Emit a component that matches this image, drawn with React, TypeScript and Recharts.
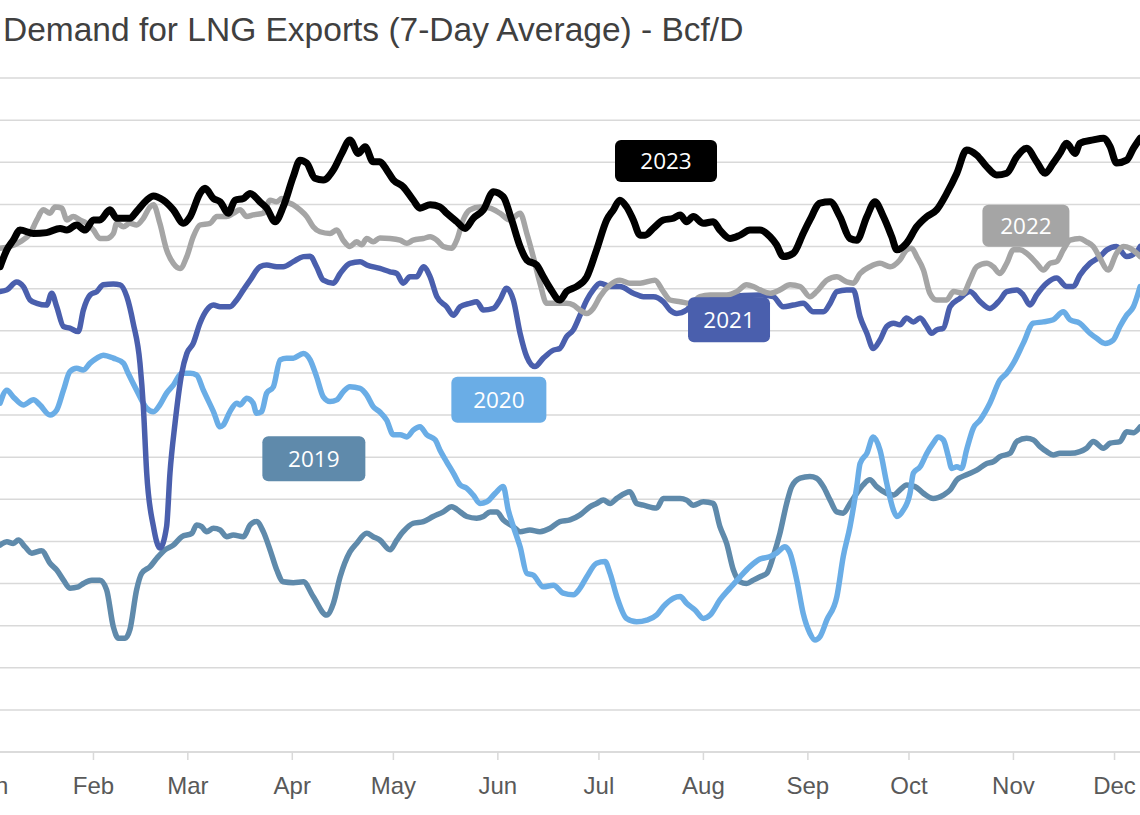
import React from 'react';
import { LineChart, Line, XAxis, YAxis, CartesianGrid, ReferenceDot } from 'recharts';

// day of year (Jan 1 = 0) -> Bcf/D, 7-day average
const monthStarts = [0, 31, 59, 90, 120, 151, 181, 212, 243, 273, 304, 334];
const monthNames = ['Jan', 'Feb', 'Mar', 'Apr', 'May', 'Jun', 'Jul', 'Aug', 'Sep', 'Oct', 'Nov', 'Dec'];
const yTicks = [0, 1, 2, 3, 4, 5, 6, 7, 8, 9, 10, 11, 12, 13, 14, 15, 16];

const y2019: [number, number][] = [
  [3.3, 4.91], [5.3, 4.99], [7.2, 4.95], [8.7, 5.03], [10.7, 4.87], [12.7, 4.72], [15.6, 4.78], [18.1, 4.48],
  [20.1, 4.32], [22.1, 4.08], [24.0, 3.89], [26.5, 3.92], [28.0, 4.0], [30.5, 4.08], [32.9, 4.08], [34.9, 3.85],
  [36.9, 2.97], [38.4, 2.7], [40.4, 2.7], [41.8, 2.9], [43.8, 3.85], [45.3, 4.24], [47.8, 4.4], [49.8, 4.6],
  [52.2, 4.8], [54.7, 4.91], [57.2, 5.11], [60.2, 5.19], [61.6, 5.39], [63.1, 5.35], [64.6, 5.23], [66.6, 5.31],
  [68.6, 5.27], [70.5, 5.11], [72.5, 5.15], [75.5, 5.11], [77.5, 5.39], [79.4, 5.47], [81.4, 5.23], [83.4, 4.8],
  [85.4, 4.32], [87.3, 4.04], [90.3, 4.02], [93.3, 4.04], [96.2, 3.69], [100.2, 3.25], [102.2, 3.53], [104.2, 4.16],
  [107.1, 4.75], [109.1, 4.95], [112.1, 5.19], [114.0, 5.11], [116.0, 5.03], [119.0, 4.8], [121.0, 5.03], [122.9, 5.23],
  [125.9, 5.43], [128.9, 5.47], [131.8, 5.59], [134.8, 5.7], [137.3, 5.82], [139.8, 5.7], [141.8, 5.59], [144.7, 5.55],
  [146.7, 5.59], [148.7, 5.7], [150.7, 5.7], [152.6, 5.51], [155.6, 5.35], [157.6, 5.23], [160.5, 5.27], [163.5, 5.23],
  [166.5, 5.31], [169.4, 5.47], [172.4, 5.51], [175.4, 5.63], [178.3, 5.82], [180.3, 5.9], [182.3, 5.98], [184.3, 5.9],
  [186.3, 6.02], [190.2, 6.18], [192.2, 5.9], [194.2, 5.86], [198.1, 5.79], [200.1, 6.02], [202.1, 6.02], [205.1, 6.02],
  [207.0, 5.98], [209.0, 5.86], [212.0, 5.94], [214.9, 5.9], [216.9, 5.35], [218.9, 4.95], [220.9, 4.32], [222.9, 4.04],
  [224.8, 4.0], [226.8, 4.08], [228.8, 4.16], [230.8, 4.24], [232.7, 4.64], [234.7, 5.19], [236.7, 5.9], [238.2, 6.3],
  [240.7, 6.5], [243.6, 6.54], [245.6, 6.5], [247.6, 6.3], [249.6, 5.98], [251.6, 5.7], [253.5, 5.67], [255.5, 5.9],
  [257.5, 6.14], [259.4, 6.34], [261.4, 6.46], [263.4, 6.3], [266.4, 6.14], [268.4, 6.1], [270.3, 6.22], [272.3, 6.34],
  [274.8, 6.3], [277.3, 6.14], [280.2, 6.02], [283.2, 6.1], [285.2, 6.22], [287.2, 6.46], [290.1, 6.58], [293.1, 6.69],
  [296.1, 6.85], [298.0, 6.89], [300.0, 7.01], [303.0, 7.09], [305.0, 7.37], [307.9, 7.45], [309.9, 7.41], [311.9, 7.25],
  [313.9, 7.13], [315.8, 7.05], [317.8, 7.09], [320.8, 7.09], [323.7, 7.13], [325.7, 7.21], [327.7, 7.37], [330.7, 7.21],
  [332.7, 7.33], [335.6, 7.37], [337.6, 7.6], [339.6, 7.58], [341.6, 7.72],
];

const y2020: [number, number][] = [
  [3.3, 8.28], [5.3, 8.59], [7.2, 8.43], [10.2, 8.24], [13.2, 8.36], [15.1, 8.24], [18.1, 8.0], [20.1, 8.12],
  [22.1, 8.59], [24.0, 9.03], [26.0, 9.11], [28.0, 9.07], [30.0, 9.23], [32.0, 9.35], [33.9, 9.42], [36.9, 9.35],
  [39.9, 9.23], [41.3, 8.99], [43.8, 8.59], [46.8, 8.16], [48.8, 8.08], [50.7, 8.24], [52.7, 8.52], [54.7, 8.71],
  [57.2, 8.99], [59.7, 8.99], [61.6, 8.95], [63.6, 8.59], [66.6, 8.08], [68.6, 7.72], [69.5, 7.76], [71.5, 8.08],
  [73.5, 8.28], [74.5, 8.24], [76.5, 8.4], [78.4, 8.28], [79.4, 8.04], [80.9, 8.08], [82.4, 8.52], [84.4, 8.67],
  [86.4, 9.31], [88.3, 9.35], [90.3, 9.35], [93.3, 9.46], [95.3, 9.31], [97.2, 8.91], [99.2, 8.43], [101.2, 8.32],
  [103.2, 8.36], [105.1, 8.55], [107.1, 8.67], [110.1, 8.63], [112.1, 8.47], [114.0, 8.2], [116.0, 8.07], [118.0, 7.88],
  [120.0, 7.53], [122.0, 7.53], [124.0, 7.48], [125.9, 7.64], [127.9, 7.72], [129.9, 7.53], [132.4, 7.41], [133.8, 7.17],
  [135.8, 6.89], [137.8, 6.62], [139.8, 6.34], [141.8, 6.26], [143.7, 6.1], [145.7, 5.9], [147.7, 5.94], [150.2, 6.14],
  [152.6, 6.3], [154.1, 5.74], [155.6, 5.35], [157.6, 4.87], [159.6, 4.24], [161.5, 4.2], [164.5, 3.92], [167.5, 3.96],
  [170.4, 3.77], [173.4, 3.73], [175.4, 3.89], [177.4, 4.16], [180.3, 4.48], [182.8, 4.52], [184.3, 4.24], [186.3, 3.69],
  [189.2, 3.17], [192.2, 3.09], [195.2, 3.13], [198.1, 3.25], [200.1, 3.45], [203.1, 3.65], [205.1, 3.69], [207.0, 3.53],
  [209.5, 3.37], [212.0, 3.17], [214.0, 3.25], [216.9, 3.61], [219.9, 3.89], [222.9, 4.16], [225.8, 4.4], [228.8, 4.58],
  [231.8, 4.64], [233.7, 4.72], [236.2, 4.87], [237.7, 4.72], [239.7, 4.08], [241.6, 3.29], [243.6, 2.82], [245.1, 2.66],
  [246.6, 2.74], [248.6, 3.13], [251.6, 3.69], [253.5, 4.64], [255.5, 5.35], [257.5, 6.3], [258.5, 6.85], [260.5, 7.09],
  [262.4, 7.48], [264.4, 7.17], [266.4, 6.38], [268.4, 5.74], [269.4, 5.59], [271.3, 5.74], [273.3, 6.14], [274.3, 6.62],
  [276.3, 6.77], [278.3, 7.09], [280.2, 7.33], [281.7, 7.48], [283.2, 7.41], [284.7, 7.01], [285.7, 6.73], [287.2, 6.77],
  [288.6, 6.73], [290.1, 7.17], [292.1, 7.69], [294.1, 7.88], [297.0, 8.28], [300.0, 8.83], [302.0, 8.99], [304.0, 9.23],
  [306.9, 9.7], [309.9, 10.18], [312.9, 10.21], [315.8, 10.26], [318.8, 10.45], [320.8, 10.26], [323.7, 10.18], [326.7, 9.94],
  [328.7, 9.82], [331.2, 9.7], [333.6, 9.78], [335.6, 10.1], [337.6, 10.37], [339.6, 10.57], [341.6, 11.05],
];

const y2021: [number, number][] = [
  [3.3, 10.93], [5.3, 10.97], [8.2, 11.16], [10.2, 11.05], [12.2, 10.73], [14.2, 10.65], [17.1, 10.61], [18.6, 10.89],
  [20.1, 10.57], [22.1, 10.1], [24.0, 10.06], [26.5, 9.98], [28.0, 10.49], [30.0, 10.85], [32.0, 10.93], [33.9, 11.09],
  [36.9, 11.11], [38.9, 11.09], [40.9, 10.81], [42.8, 10.18], [44.8, 9.23], [45.8, 8.2], [46.8, 6.62], [48.8, 5.35],
  [50.7, 4.84], [52.7, 5.35], [53.7, 6.62], [55.2, 7.8], [57.2, 8.99], [58.7, 9.46], [60.6, 9.7], [62.6, 10.18],
  [64.6, 10.49], [66.6, 10.61], [68.6, 10.57], [71.5, 10.57], [73.5, 10.73], [75.5, 10.97], [77.5, 11.2], [80.4, 11.52],
  [82.4, 11.56], [85.4, 11.52], [87.3, 11.52], [90.3, 11.64], [93.3, 11.76], [95.3, 11.77], [97.2, 11.52], [99.2, 11.2],
  [102.2, 11.13], [104.2, 11.36], [107.1, 11.6], [110.1, 11.64], [112.1, 11.56], [116.0, 11.48], [119.0, 11.4], [121.0, 11.36],
  [122.9, 11.13], [124.9, 11.28], [126.9, 11.28], [128.9, 11.52], [130.9, 11.28], [132.9, 10.81], [135.8, 10.57], [137.8, 10.37],
  [139.8, 10.57], [142.7, 10.65], [144.7, 10.69], [146.7, 10.49], [149.7, 10.53], [151.6, 10.73], [153.6, 11.01], [155.6, 10.73],
  [157.6, 9.94], [159.6, 9.38], [162.0, 9.15], [164.5, 9.35], [167.5, 9.54], [169.4, 9.58], [171.4, 9.86], [173.4, 10.02],
  [175.4, 10.37], [177.4, 10.73], [179.3, 10.97], [181.3, 11.13], [184.3, 11.05], [187.2, 11.05], [191.2, 10.89], [194.2, 10.81],
  [197.1, 10.81], [200.1, 10.69], [202.1, 10.49], [204.1, 10.41], [207.0, 10.49], [209.0, 10.65], [228.8, 10.85], [232.7, 10.81],
  [235.7, 10.57], [238.7, 10.61], [241.6, 10.65], [244.6, 10.45], [247.6, 10.45], [249.6, 10.65], [251.6, 10.93], [254.5, 10.97],
  [256.5, 10.97], [258.5, 10.33], [260.5, 9.94], [262.4, 9.58], [264.4, 9.78], [266.4, 10.1], [268.4, 10.18], [270.3, 10.14],
  [272.3, 10.3], [274.3, 10.21], [276.3, 10.3], [278.3, 10.1], [279.7, 9.94], [281.2, 10.02], [283.2, 10.06], [285.2, 10.57],
  [288.1, 10.77], [291.1, 10.93], [294.1, 10.69], [297.0, 10.53], [300.0, 10.73], [302.0, 10.93], [305.0, 10.97], [306.9, 10.85],
  [308.9, 10.61], [310.9, 10.85], [313.9, 11.13], [316.8, 11.25], [319.8, 11.05], [321.8, 11.05], [323.7, 11.32], [326.7, 11.6],
  [329.7, 11.76], [331.7, 11.92], [334.6, 12.0], [337.6, 11.76], [340.6, 11.88], [341.6, 12.0],
];

const y2022: [number, number][] = [
  [3.3, 11.96], [6.2, 12.0], [9.2, 12.11], [12.2, 12.31], [14.2, 12.63], [16.1, 12.87], [18.1, 12.79], [19.6, 12.94],
  [21.6, 12.91], [23.1, 12.63], [25.0, 12.71], [27.0, 12.63], [29.0, 12.55], [31.0, 12.39], [32.9, 12.19], [34.9, 12.19],
  [36.9, 12.31], [37.9, 12.55], [39.9, 12.47], [41.8, 12.55], [43.8, 12.51], [45.8, 12.67], [47.8, 12.94], [48.8, 12.99],
  [50.7, 12.55], [52.7, 11.92], [54.7, 11.6], [56.7, 11.48], [58.7, 11.76], [60.6, 12.23], [62.6, 12.51], [65.6, 12.55],
  [67.6, 12.71], [70.5, 12.71], [72.5, 12.79], [74.5, 12.87], [76.5, 12.71], [78.4, 12.75], [81.4, 12.79], [83.4, 13.1],
  [85.4, 13.06], [86.9, 13.14], [88.3, 13.06], [90.3, 12.99], [92.3, 12.87], [94.3, 12.71], [96.2, 12.47], [98.2, 12.35],
  [101.2, 12.31], [103.2, 12.39], [105.1, 12.15], [107.1, 12.0], [109.1, 12.11], [110.6, 12.04], [112.1, 12.19], [114.0, 12.11],
  [116.0, 12.2], [119.0, 12.19], [122.0, 12.15], [124.0, 12.08], [125.9, 12.15], [128.9, 12.19], [130.9, 12.23], [132.9, 12.15],
  [134.8, 12.0], [137.3, 11.96], [138.8, 12.15], [140.7, 12.63], [142.7, 12.87], [145.7, 12.94], [148.7, 12.91], [151.6, 12.79],
  [154.6, 12.63], [157.6, 12.79], [159.6, 12.31], [161.5, 11.76], [163.5, 11.13], [165.5, 10.65], [167.5, 10.65], [171.4, 10.65],
  [173.4, 10.61], [175.4, 10.49], [177.4, 10.41], [179.3, 10.53], [181.3, 10.81], [184.3, 11.09], [187.2, 11.2], [190.2, 11.13],
  [193.2, 11.13], [197.6, 11.2], [200.1, 10.93], [202.1, 10.73], [205.1, 10.69], [208.0, 10.65], [211.0, 10.81], [214.0, 10.85],
  [218.9, 10.85], [221.9, 10.93], [224.8, 11.09], [226.8, 11.05], [228.8, 10.97], [231.8, 10.89], [234.7, 10.97], [237.7, 11.09],
  [240.7, 11.05], [243.6, 10.81], [245.6, 10.93], [248.6, 11.2], [251.6, 11.28], [254.5, 11.16], [256.5, 11.13], [258.5, 11.36],
  [261.4, 11.52], [264.4, 11.6], [267.4, 11.52], [270.3, 11.68], [272.3, 11.92], [273.8, 11.96], [275.3, 11.76], [277.3, 11.44],
  [279.2, 10.89], [281.2, 10.73], [284.2, 10.73], [286.2, 10.93], [289.1, 10.89], [291.1, 11.2], [293.1, 11.52], [296.1, 11.6],
  [298.0, 11.52], [300.0, 11.36], [302.0, 11.6], [304.0, 11.92], [305.9, 11.92], [307.9, 11.84], [310.9, 11.6], [312.9, 11.44],
  [314.8, 11.6], [316.8, 11.64], [318.8, 11.92], [320.8, 12.15], [323.7, 12.19], [325.7, 12.11], [327.7, 12.0], [329.7, 11.72],
  [332.1, 11.44], [334.6, 11.84], [336.6, 12.0], [338.6, 11.96], [340.6, 11.84], [341.6, 11.76],
];

const y2023: [number, number][] = [
  [3.3, 11.52], [5.3, 11.92], [7.2, 12.15], [9.2, 12.39], [13.2, 12.31], [17.1, 12.33], [21.1, 12.43], [23.1, 12.39],
  [26.0, 12.51], [28.5, 12.39], [31.0, 12.63], [32.9, 12.63], [35.9, 12.87], [37.9, 12.67], [41.8, 12.67], [43.8, 12.83],
  [46.8, 13.1], [48.8, 13.2], [51.7, 13.1], [54.7, 12.87], [57.7, 12.55], [59.7, 12.71], [62.6, 13.26], [64.1, 13.38],
  [66.6, 13.14], [68.6, 13.06], [71.0, 12.79], [73.0, 13.1], [75.5, 13.14], [77.5, 13.26], [80.4, 13.06], [82.4, 12.91],
  [84.9, 12.59], [87.3, 12.94], [90.3, 13.66], [92.3, 14.05], [94.3, 13.98], [96.7, 13.62], [99.2, 13.58], [102.2, 13.82],
  [104.7, 14.21], [107.1, 14.53], [109.6, 14.21], [111.6, 14.37], [114.0, 14.01], [116.0, 14.01], [118.0, 13.82], [120.0, 13.58],
  [122.9, 13.42], [125.9, 13.1], [127.9, 12.91], [130.9, 12.99], [133.8, 12.94], [135.8, 12.79], [138.8, 12.59], [141.3, 12.43],
  [143.7, 12.67], [146.7, 12.87], [149.7, 13.3], [152.6, 13.18], [155.1, 12.63], [157.6, 12.0], [159.6, 11.68], [162.5, 11.56],
  [164.5, 11.28], [166.5, 11.01], [169.4, 10.73], [171.4, 10.93], [174.4, 11.05], [177.4, 11.28], [180.3, 11.92], [183.3, 12.63],
  [185.3, 12.87], [187.2, 13.1], [189.2, 12.94], [191.2, 12.63], [193.2, 12.27], [194.7, 12.27], [197.1, 12.43], [200.1, 12.63],
  [203.1, 12.67], [205.1, 12.75], [207.0, 12.59], [209.0, 12.71], [212.0, 12.55], [214.9, 12.59], [216.9, 12.39], [219.9, 12.19],
  [222.9, 12.27], [225.8, 12.39], [228.8, 12.39], [231.8, 12.23], [233.7, 12.04], [235.7, 11.76], [238.7, 11.84], [241.6, 12.31],
  [243.6, 12.63], [246.6, 13.03], [249.6, 13.06], [252.5, 12.71], [255.5, 12.19], [257.5, 12.15], [260.5, 12.71], [262.9, 13.06],
  [265.4, 12.71], [267.9, 12.23], [269.4, 11.92], [272.3, 12.08], [275.3, 12.47], [278.3, 12.71], [281.2, 12.87], [284.2, 13.26],
  [287.2, 13.74], [290.1, 14.29], [293.1, 14.17], [296.1, 13.89], [299.0, 13.7], [302.0, 13.74], [305.0, 14.13], [307.9, 14.33],
  [310.9, 14.01], [313.4, 13.74], [315.8, 13.98], [317.8, 14.21], [319.8, 14.45], [322.3, 14.21], [323.7, 14.45], [327.7, 14.53],
  [330.7, 14.57], [332.7, 14.37], [334.6, 13.98], [337.6, 14.05], [339.6, 14.33], [341.6, 14.57],
];

// year tags: anchor point (day, Bcf/D) of each tag's centre
const tagYears = ['2019', '2020', '2021', '2022', '2023'];
const tagDays = [96.4, 151.3, 219.6, 307.7, 200.9];
const tagValues = [6.96, 8.36, 10.26, 12.49, 14.03];

const colors: Record<string, string> = {
  '2019': '#5f8aab',
  '2020': '#6aade6',
  '2021': '#4a5fad',
  '2022': '#a5a5a5',
  '2023': '#000000',
};
const tagSize: Record<string, [number, number]> = {
  '2019': [103, 45],
  '2020': [95, 46],
  '2021': [82, 45],
  '2022': [87, 42],
  '2023': [102, 42],
};

const series = [
  { year: '2019', points: y2019, width: 5.5 },
  { year: '2020', points: y2020, width: 5.5 },
  { year: '2021', points: y2021, width: 5.5 },
  { year: '2022', points: y2022, width: 5.5 },
  { year: '2023', points: y2023, width: 7 },
];

const toRows = (pts: [number, number][]) => pts.map(([day, bcf]) => ({ day, bcf }));

const fontMain = '"Liberation Sans", Arial, sans-serif';

const YearTag = ({ cx, cy, year }: { cx: number; cy: number; year: string }) => {
  const [w, h] = tagSize[year];
  return (
    <g>
      <rect x={cx - w / 2} y={cy - h / 2} width={w} height={h} rx={6} ry={6} fill={colors[year]} />
      <text
        x={cx}
        y={cy + 8}
        textAnchor="middle"
        fill="#ffffff"
        fontSize={22.5}
        fontFamily='"Open Sans", sans-serif'
      >
        {year}
      </text>
    </g>
  );
};

export default function App() {
  return (
    <div
      style={{
        position: 'fixed',
        left: 0,
        top: 0,
        width: 1140,
        height: 815,
        overflow: 'hidden',
        background: '#ffffff',
      }}
    >
      <div
        style={{
          position: 'absolute',
          left: 3,
          top: 10,
          fontFamily: fontMain,
          fontSize: 33.5,
          lineHeight: '40px',
          color: '#404040',
          whiteSpace: 'nowrap',
        }}
      >
        Demand for LNG Exports (7-Day Average) - Bcf/D
      </div>
      <div style={{ position: 'absolute', left: -11, top: 0 }}>
        <LineChart width={1230} height={815} margin={{ top: 78, right: 0, bottom: 23, left: 0 }}>
          <CartesianGrid vertical={false} stroke="#d9d9d9" strokeWidth={1.5} />
          <XAxis
            type="number"
            dataKey="day"
            domain={[0, 365]}
            ticks={monthStarts}
            interval={0}
            tickFormatter={(d: number) => monthNames[monthStarts.indexOf(d)]}
            height={40}
            tickSize={8}
            tickMargin={17}
            axisLine={{ stroke: '#d9d9d9', strokeWidth: 1.5 }}
            tickLine={{ stroke: '#d9d9d9', strokeWidth: 1.5 }}
            tick={{ fill: '#595959', fontSize: 24, fontFamily: fontMain }}
          />
          <YAxis hide type="number" domain={[0, 16]} ticks={yTicks} />
          {series.map((s) => (
            <Line
              key={s.year}
              name={s.year}
              data={toRows(s.points)}
              dataKey="bcf"
              type="monotone"
              stroke={colors[s.year]}
              strokeWidth={s.width}
              strokeLinejoin="round"
              strokeLinecap="round"
              dot={false}
              activeDot={false}
              isAnimationActive={false}
            />
          ))}
          {tagYears.map((yr, i) => (
            <ReferenceDot
              key={yr}
              x={tagDays[i]}
              y={tagValues[i]}
              r={0}
              ifOverflow="visible"
              shape={(p: any) => <YearTag cx={p.cx} cy={p.cy} year={yr} />}
            />
          ))}
        </LineChart>
      </div>
    </div>
  );
}
